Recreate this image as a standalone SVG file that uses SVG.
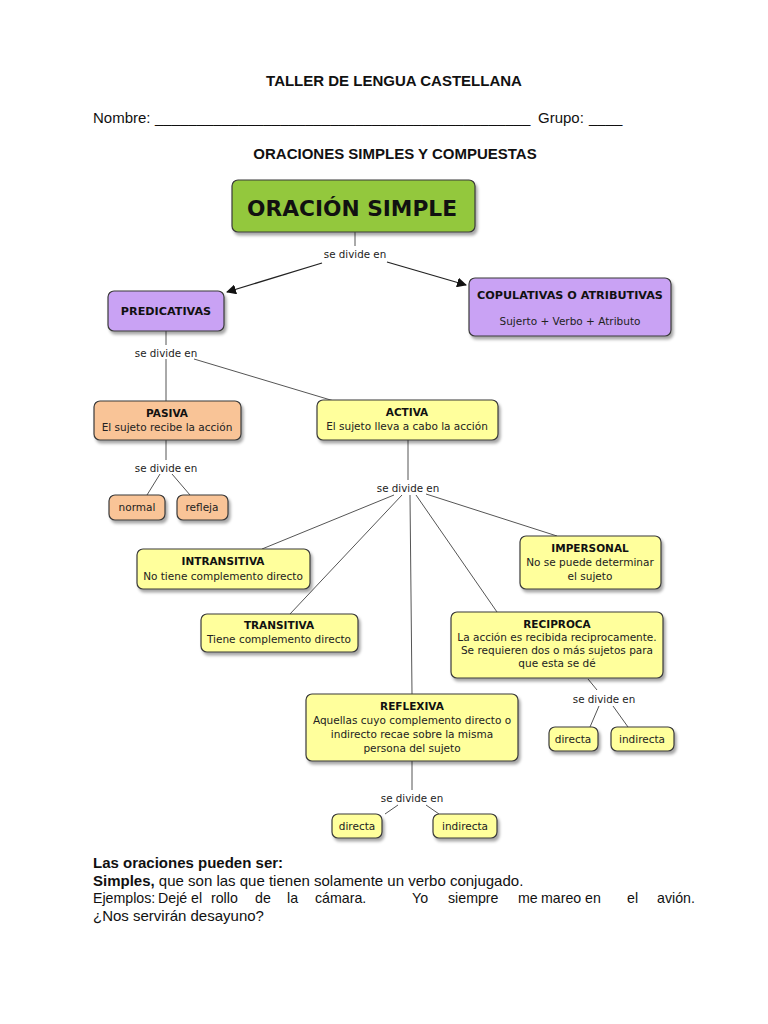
<svg xmlns="http://www.w3.org/2000/svg" width="768" height="1024" viewBox="0 0 768 1024">
<style>
.doc{font-family:"Liberation Sans",Arial,sans-serif;font-size:15px;fill:#111}
.b{font-weight:bold}
.n{font-family:"DejaVu Sans",Verdana,sans-serif;font-size:10.5px;fill:#222;text-anchor:middle}
.t{font-weight:bold;fill:#111}
.pt{font-size:11.2px}
.lbl{font-family:"DejaVu Sans",Verdana,sans-serif;font-size:10.3px;fill:#222;text-anchor:middle}
.box{stroke:#3a3a3a;stroke-width:1.2;filter:url(#sh)}
.g{fill:#93c83c}.p{fill:#c9a2f4}.o{fill:#f9c497}.y{fill:#ffff9c}
.c line{stroke:#555;stroke-width:1}
.c .arr{stroke:#222;stroke-width:1.3;marker-end:url(#ah)}
</style>
<defs>
<filter id="sh" x="-10%" y="-10%" width="130%" height="140%">
<feDropShadow dx="2" dy="3" stdDeviation="1.5" flood-color="#000" flood-opacity="0.35"/>
</filter>
<marker id="ah" viewBox="0 0 10 10" refX="9" refY="5" markerWidth="10" markerHeight="10" markerUnits="userSpaceOnUse" orient="auto">
<path d="M0,0 L10,5 L0,10 z" fill="#111"/>
</marker>
</defs>
<rect width="768" height="1024" fill="#fff"/>

<g id="header" class="doc">
<text x="394" y="86" text-anchor="middle" class="b">TALLER DE LENGUA CASTELLANA</text>
<text x="93" y="123">Nombre:</text>
<text x="155" y="123">_____________________________________________</text>
<text x="538" y="123">Grupo:</text>
<text x="589" y="123">____</text>
<text x="395" y="159" text-anchor="middle" class="b">ORACIONES SIMPLES Y COMPUESTAS</text>
</g>

<g id="connectors" class="c">
<line x1="355" y1="232" x2="355" y2="246"/>
<line class="arr" x1="322" y1="263" x2="227" y2="292"/>
<line class="arr" x1="387" y1="262" x2="466" y2="285"/>
<line x1="166" y1="331" x2="166" y2="345"/>
<line x1="166" y1="359" x2="166" y2="401"/>
<line x1="194" y1="359" x2="334" y2="401"/>
<line x1="166" y1="440" x2="166" y2="460"/>
<line x1="160" y1="474" x2="147" y2="495"/>
<line x1="172" y1="474" x2="190" y2="495"/>
<line x1="408" y1="440" x2="408" y2="480"/>
<line x1="394" y1="495" x2="262" y2="549"/>
<line x1="402" y1="495" x2="290" y2="614"/>
<line x1="410" y1="495" x2="412" y2="694"/>
<line x1="416" y1="495" x2="497" y2="612"/>
<line x1="426" y1="494" x2="557" y2="536"/>
<line x1="588" y1="679" x2="597" y2="690"/>
<line x1="599" y1="706" x2="590" y2="727"/>
<line x1="613" y1="706" x2="628" y2="727"/>
<line x1="412" y1="761" x2="412" y2="790"/>
<line x1="398" y1="805" x2="385" y2="814"/>
<line x1="426" y1="805" x2="439" y2="814"/>
</g>

<g id="labels">
<text class="lbl" x="355" y="258">se divide en</text>
<text class="lbl" x="166" y="357">se divide en</text>
<text class="lbl" x="166" y="472">se divide en</text>
<text class="lbl" x="408" y="492">se divide en</text>
<text class="lbl" x="604" y="703">se divide en</text>
<text class="lbl" x="412" y="802">se divide en</text>
</g>

<g id="oracion-simple">
<rect class="box g" x="232" y="180" width="243" height="52" rx="6"/>
<text x="352" y="216" text-anchor="middle" font-family="DejaVu Sans,Verdana,sans-serif" font-weight="bold" font-size="22" fill="#111" textLength="210" lengthAdjust="spacingAndGlyphs">ORACIÓN SIMPLE</text>
</g>

<g id="predicativas">
<rect class="box p" x="108" y="291" width="116" height="40" rx="6"/>
<text class="n t pt" x="166" y="315">PREDICATIVAS</text>
</g>

<g id="copulativas">
<rect class="box p" x="469" y="278" width="202" height="58" rx="6"/>
<text class="n t pt" x="570" y="299">COPULATIVAS O ATRIBUTIVAS</text>
<text class="n" x="570" y="325">Sujerto + Verbo + Atributo</text>
</g>

<g id="pasiva">
<rect class="box o" x="94" y="401" width="147" height="39" rx="6"/>
<text class="n t" x="167" y="417">PASIVA</text>
<text class="n" x="167" y="431">El sujeto recibe la acción</text>
</g>

<g id="activa">
<rect class="box y" x="317" y="400" width="181" height="40" rx="6"/>
<text class="n t" x="407" y="416">ACTIVA</text>
<text class="n" x="407" y="430">El sujeto lleva a cabo la acción</text>
</g>

<g id="normal">
<rect class="box o" x="109" y="495" width="56" height="25" rx="6"/>
<text class="n" x="137" y="511">normal</text>
</g>

<g id="refleja">
<rect class="box o" x="177" y="495" width="51" height="25" rx="6"/>
<text class="n" x="202" y="511">refleja</text>
</g>

<g id="intransitiva">
<rect class="box y" x="137" y="549" width="173" height="40" rx="6"/>
<text class="n t" x="223" y="565">INTRANSITIVA</text>
<text class="n" x="223" y="580">No tiene complemento directo</text>
</g>

<g id="impersonal">
<rect class="box y" x="520" y="536" width="141" height="53" rx="6"/>
<text class="n t" x="590" y="552">IMPERSONAL</text>
<text class="n" x="590" y="566">No se puede determinar</text>
<text class="n" x="590" y="580">el sujeto</text>
</g>

<g id="transitiva">
<rect class="box y" x="201" y="614" width="157" height="38" rx="6"/>
<text class="n t" x="279" y="629">TRANSITIVA</text>
<text class="n" x="279" y="643">Tiene complemento directo</text>
</g>

<g id="reciproca">
<rect class="box y" x="451" y="612" width="212" height="66" rx="6"/>
<text class="n t" x="557" y="628">RECIPROCA</text>
<text class="n" x="557" y="641">La acción es recibida reciprocamente.</text>
<text class="n" x="557" y="654">Se requieren dos o más sujetos para</text>
<text class="n" x="557" y="667">que esta se dé</text>
</g>

<g id="reciproca-directa">
<rect class="box y" x="549" y="727" width="49" height="24" rx="6"/>
<text class="n" x="573" y="743">directa</text>
</g>

<g id="reciproca-indirecta">
<rect class="box y" x="611" y="727" width="63" height="24" rx="6"/>
<text class="n" x="642" y="743">indirecta</text>
</g>

<g id="reflexiva">
<rect class="box y" x="306" y="694" width="212" height="67" rx="6"/>
<text class="n t" x="412" y="710">REFLEXIVA</text>
<text class="n" x="412" y="724">Aquellas cuyo complemento directo o</text>
<text class="n" x="412" y="738">indirecto recae sobre la misma</text>
<text class="n" x="412" y="752">persona del sujeto</text>
</g>

<g id="reflexiva-directa">
<rect class="box y" x="332" y="814" width="50" height="24" rx="6"/>
<text class="n" x="357" y="830">directa</text>
</g>

<g id="reflexiva-indirecta">
<rect class="box y" x="433" y="814" width="64" height="24" rx="6"/>
<text class="n" x="465" y="830">indirecta</text>
</g>

<g id="body-text" class="doc">
<text x="93" y="868" class="b">Las oraciones pueden ser:</text>
<text x="93" y="886"><tspan class="b">Simples,</tspan> que son las que tienen solamente un verbo conjugado.</text>
<text y="903" font-size="14.2"><tspan x="93">Ejemplos:</tspan><tspan x="158">Dejé</tspan><tspan x="191">el</tspan><tspan x="211">rollo</tspan><tspan x="255">de</tspan><tspan x="287">la</tspan><tspan x="315">cámara.</tspan><tspan x="412">Yo</tspan><tspan x="448">siempre</tspan><tspan x="518">me</tspan><tspan x="541">mareo</tspan><tspan x="585">en</tspan><tspan x="627">el</tspan><tspan x="657">avión.</tspan></text>
<text x="93" y="921">¿Nos servirán desayuno?</text>
</g>
</svg>
